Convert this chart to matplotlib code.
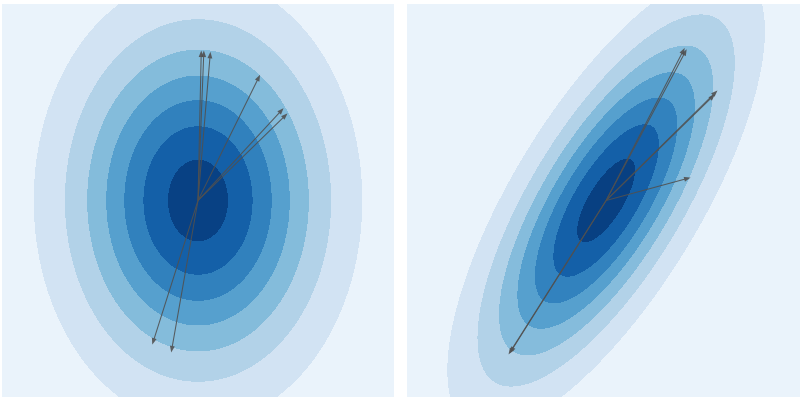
import numpy as np
import matplotlib
matplotlib.use('Agg')
import matplotlib.pyplot as plt

# distribution parameters (mean, std devs, correlation) for each panel
mean_left = [0.0, 0.0]
sd_left = [1.25, 1.70]
rho_left = 0.0

mean_right = [0.04, 0.0]
sd_right = [1.205, 1.745]
rho_right = 0.74

# arrow tips (x, y) drawn from the mean
tips_left_x = [0.05, 0.09, 0.19, 0.95, 1.31, 1.37, -0.70, -0.41]
tips_left_y = [2.29, 2.29, 2.27, 1.92, 1.41, 1.33, -2.20, -2.32]

tips_right_x = [1.24, 1.27, 1.74, 1.70, 1.33, -1.45, -1.43]
tips_right_y = [2.33, 2.31, 1.68, 1.62, 0.35, -2.35, -2.33]


def gauss(X, Y, mu, sd, rho):
    cov = np.array([[sd[0]**2, rho*sd[0]*sd[1]],
                    [rho*sd[0]*sd[1], sd[1]**2]])
    P = np.linalg.inv(cov)
    dx = X - mu[0]
    dy = Y - mu[1]
    m = P[0, 0]*dx*dx + 2*P[0, 1]*dx*dy + P[1, 1]*dy*dy
    return np.exp(-0.5*m) / (2*np.pi*np.sqrt(np.linalg.det(cov)))


x = np.linspace(-3, 3, 400)
X, Y = np.meshgrid(x, x)

fig = plt.figure(figsize=(8.04, 4.01), dpi=100)
ax1 = fig.add_axes([2/804, 4/401, 392/804, 393/401])
ax2 = fig.add_axes([407/804, 4/401, 393/804, 393/401])

panels = [(ax1, mean_left, sd_left, rho_left, tips_left_x, tips_left_y),
          (ax2, mean_right, sd_right, rho_right, tips_right_x, tips_right_y)]

for ax, mu, sd, rho, tx, ty in panels:
    Z = gauss(X, Y, mu, sd, rho)
    lev = np.arange(9) * Z.max() / 7.47
    ax.contourf(X, Y, Z, levels=lev, cmap='Blues')
    for xe, ye in zip(tx, ty):
        ax.arrow(mu[0], mu[1], xe - mu[0], ye - mu[1], width=0.016,
                 head_width=0.075, head_length=0.1, length_includes_head=True,
                 color='#505050', alpha=0.9, lw=0)
    ax.set_xlim(-3, 3)
    ax.set_ylim(-3, 3)
    ax.axis('off')

fig.savefig('out.png', dpi=100)
